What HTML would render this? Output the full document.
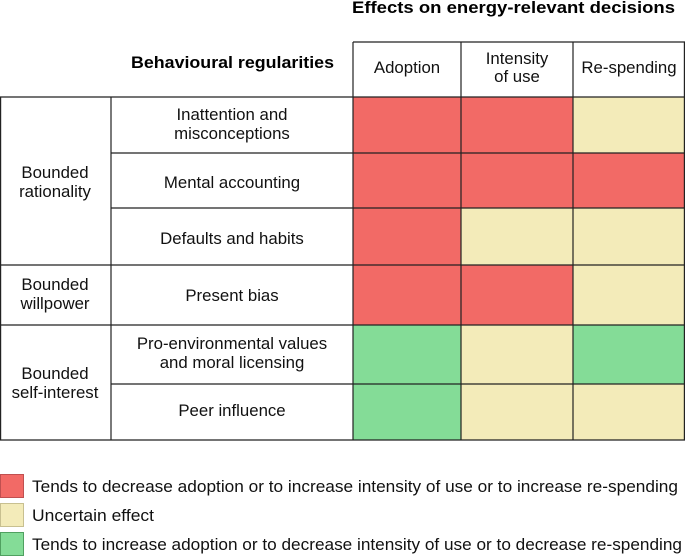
<!DOCTYPE html>
<html><head><style>
body{margin:0;background:#fff;}
svg{display:block;font-family:"Liberation Sans",Arial,sans-serif;}
</style></head><body>
<svg width="685" height="556" viewBox="0 0 685 556">
<text x="352" y="13" font-size="16.5" font-weight="bold" textLength="323" lengthAdjust="spacingAndGlyphs">Effects on energy-relevant decisions</text>
<text x="131" y="68" font-size="16.5" font-weight="bold" textLength="203" lengthAdjust="spacingAndGlyphs">Behavioural regularities</text>
<g stroke="none">
<rect x="353" y="97" width="108" height="56" fill="#f26a66"/>
<rect x="461" y="97" width="112" height="56" fill="#f26a66"/>
<rect x="573" y="97" width="112" height="56" fill="#f3ebb9"/>
<rect x="353" y="153" width="108" height="55" fill="#f26a66"/>
<rect x="461" y="153" width="112" height="55" fill="#f26a66"/>
<rect x="573" y="153" width="112" height="55" fill="#f26a66"/>
<rect x="353" y="208" width="108" height="57" fill="#f26a66"/>
<rect x="461" y="208" width="112" height="57" fill="#f3ebb9"/>
<rect x="573" y="208" width="112" height="57" fill="#f3ebb9"/>
<rect x="353" y="265" width="108" height="60" fill="#f26a66"/>
<rect x="461" y="265" width="112" height="60" fill="#f26a66"/>
<rect x="573" y="265" width="112" height="60" fill="#f3ebb9"/>
<rect x="353" y="325" width="108" height="59" fill="#84dc97"/>
<rect x="461" y="325" width="112" height="59" fill="#f3ebb9"/>
<rect x="573" y="325" width="112" height="59" fill="#84dc97"/>
<rect x="353" y="384" width="108" height="56" fill="#84dc97"/>
<rect x="461" y="384" width="112" height="56" fill="#f3ebb9"/>
<rect x="573" y="384" width="112" height="56" fill="#f3ebb9"/>
</g>
<g stroke="#222" stroke-width="1.2" fill="none">
<line x1="353" y1="42" x2="685" y2="42"/>
<line x1="0" y1="97" x2="685" y2="97"/>
<line x1="111" y1="153" x2="685" y2="153"/>
<line x1="111" y1="208" x2="685" y2="208"/>
<line x1="0" y1="265" x2="685" y2="265"/>
<line x1="0" y1="325" x2="685" y2="325"/>
<line x1="111" y1="384" x2="685" y2="384"/>
<line x1="0" y1="440" x2="685" y2="440"/>
<line x1="0.6" y1="97" x2="0.6" y2="440"/>
<line x1="111" y1="97" x2="111" y2="440"/>
<line x1="353" y1="42" x2="353" y2="440"/>
<line x1="461" y1="42" x2="461" y2="440"/>
<line x1="573" y1="42" x2="573" y2="440"/>
<line x1="684.4" y1="42" x2="684.4" y2="440"/>
</g>
<g font-size="16.8" text-anchor="middle" fill="#111">
<text x="407" y="73">Adoption</text>
<text x="517" y="64">Intensity</text>
<text x="517" y="82">of use</text>
<text x="629" y="73">Re-spending</text>
<text x="232" y="120">Inattention and</text>
<text x="232" y="139">misconceptions</text>
<text x="232" y="188">Mental accounting</text>
<text x="232" y="244">Defaults and habits</text>
<text x="232" y="301">Present bias</text>
<text x="232" y="349">Pro-environmental values</text>
<text x="232" y="368">and moral licensing</text>
<text x="232" y="416">Peer influence</text>
<text x="55" y="178">Bounded</text>
<text x="55" y="197">rationality</text>
<text x="55" y="290">Bounded</text>
<text x="55" y="309">willpower</text>
<text x="55" y="379">Bounded</text>
<text x="55" y="398">self-interest</text>
</g>
<rect x="0.5" y="474.5" width="23" height="23" fill="#f26a66" stroke="#c05050"/>
<rect x="0.5" y="503.5" width="23" height="23" fill="#f3ebb9" stroke="#c8c090"/>
<rect x="0.5" y="532.5" width="23" height="23" fill="#84dc97" stroke="#50a060"/>
<g font-size="16.8" fill="#111">
<text x="32" y="492" textLength="646" lengthAdjust="spacingAndGlyphs">Tends to decrease adoption or to increase intensity of use or to increase re-spending</text>
<text x="32" y="521" textLength="122" lengthAdjust="spacingAndGlyphs">Uncertain effect</text>
<text x="32" y="550" textLength="650" lengthAdjust="spacingAndGlyphs">Tends to increase adoption or to decrease intensity of use or to decrease re-spending</text>
</g>
</svg>
</body></html>
